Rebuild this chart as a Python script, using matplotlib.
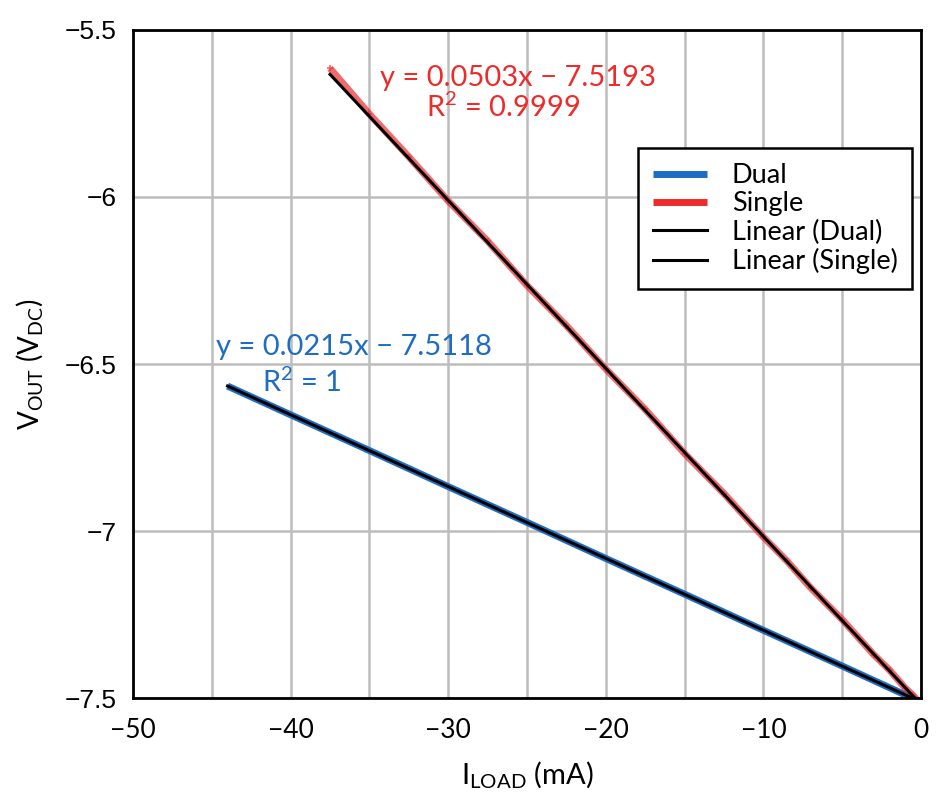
import numpy as np
import matplotlib
matplotlib.use("Agg")
import matplotlib.pyplot as plt

plt.rcParams['font.family'] = ['Lato', 'DejaVu Sans']
plt.rcParams['mathtext.fontset'] = 'custom'
plt.rcParams['mathtext.rm'] = 'Lato'
plt.rcParams['mathtext.it'] = 'Lato:italic'

# measured data
dual_i = [-44, -40, -35, -30, -25, -20, -15, -10, -5, 0]
dual_v = [-6.566, -6.652, -6.759, -6.867, -6.974, -7.082, -7.189, -7.297, -7.404, -7.512]

single_i = [-37.5, -35, -32.5, -30, -27.5, -25, -22.5, -20, -17.5, -15, -12.5,
            -10, -8.5, -7, -5, -3, -2, -1, -0.5, 0]
single_v = [-5.615, -5.752, -5.880, -6.012, -6.132, -6.265, -6.385, -6.515, -6.636, -6.768,
            -6.888, -7.018, -7.090, -7.170, -7.265, -7.370, -7.416, -7.470, -7.492, -7.519]

# linear fit coefficients (as printed on chart, in |I|)
dual_fit = (0.0215, -7.5118)
single_fit = (0.0503, -7.5193)

BLUE = '#1f6cc4'
RED = '#ee2b2b'

fig = plt.figure(figsize=(9.5, 8.08), dpi=100)
ax = fig.add_axes([0.14, 0.136, 0.8295, 0.827])

ax.plot(dual_i, dual_v, color=BLUE, lw=5, label='Dual', solid_capstyle='butt')
ax.plot(single_i, single_v, color=RED, lw=5, label='Single', marker='+', ms=5,
        mew=1.2, solid_capstyle='butt', alpha=0.7)

xd = np.array([dual_i[0], dual_i[-1]])
ax.plot(xd, dual_fit[1] - dual_fit[0] * xd, color='black', lw=2.2, label='Linear (Dual)')
xs = np.array([single_i[0], single_i[-1]])
ax.plot(xs, single_fit[1] - single_fit[0] * xs, color='black', lw=2.2, label='Linear (Single)')

ax.set_xlim(-50, 0)
ax.set_ylim(-7.5, -5.5)
ax.set_xticks(np.arange(-50, 1, 10))
ax.set_xticks(np.arange(-45, 0, 10), minor=True)
ax.set_yticks([-7.5, -7, -6.5, -6, -5.5])
ax.set_yticklabels(['\u22127.5', '\u22127', '\u22126.5', '\u22126', '\u22125.5'],
                   family='Liberation Sans')
ax.set_xticklabels(['\u221250', '\u221240', '\u221230', '\u221220', '\u221210', '0'])
ax.grid(True, which='both', color='#bdbdbd', lw=1.8)
ax.set_axisbelow(True)
ax.tick_params(which='both', length=0, labelsize=19)
ax.tick_params(axis='x', pad=14)
ax.tick_params(axis='y', pad=12)
for s in ax.spines.values():
    s.set_linewidth(2)

ax.set_xlabel(r'I$_{\mathrm{LOAD}}$ (mA)', fontsize=21, labelpad=12)
ax.set_ylabel(r'V$_{\mathrm{OUT}}$ (V$_{\mathrm{DC}}$)', fontsize=20, labelpad=14)

ax.text(-25.6, -5.644, 'y = 0.0503x \u2212 7.5193', color=RED, fontsize=21,
        ha='center', va='center')
ax.text(-26.5, -5.733, r'R$^{2}$ = 0.9999', color=RED, fontsize=21,
        ha='center', va='center')
ax.text(-36.0, -6.449, 'y = 0.0215x \u2212 7.5118', color=BLUE, fontsize=21,
        ha='center', va='center')
ax.text(-39.3, -6.554, r'R$^{2}$ = 1', color=BLUE, fontsize=21,
        ha='center', va='center')

leg = ax.legend(loc='upper right', bbox_to_anchor=(0.989, 0.823), fontsize=19.5,
                frameon=True, fancybox=False, edgecolor='black', framealpha=1,
                borderaxespad=0, handlelength=2.0, borderpad=0.55, labelspacing=0.12,
                handletextpad=0.9)
leg.get_frame().set_linewidth(1.8)
for h in leg.get_lines():
    h.set_alpha(1)
    h.set_marker('')

fig.savefig('out.png', dpi=100)
